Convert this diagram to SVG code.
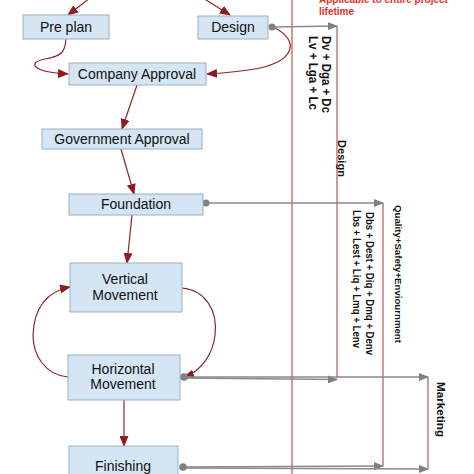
<svg xmlns="http://www.w3.org/2000/svg" width="474" height="474" viewBox="0 0 474 474">
<defs>
<style>
.node rect{fill:#d4e6f4;stroke:#9eafbf;stroke-width:1}
.node text{font-family:"Liberation Sans",Arial,sans-serif;font-size:14px;fill:#111;text-anchor:middle}
.flow{fill:none;stroke:#8e2424;stroke-width:1.2}
.grey{fill:none;stroke:#8a8a8a;stroke-width:1.3}
.bar{fill:none;stroke:#c46060;stroke-width:1.3}
.dot{fill:#808080}
.lbl{font-family:"Liberation Sans",Arial,sans-serif;fill:#111}
.red{font-family:"Liberation Sans",Arial,sans-serif;font-size:10px;font-weight:bold;fill:#e8302a}
</style>
<marker id="ar" markerWidth="11" markerHeight="9" refX="10" refY="4.5" orient="auto" markerUnits="userSpaceOnUse"><path d="M0,0 L11,4.5 L0,9 z" fill="#8e1c1c"/></marker>
<marker id="ag" markerWidth="10" markerHeight="8" refX="9" refY="4" orient="auto" markerUnits="userSpaceOnUse"><path d="M0,0 L10,4 L0,8 z" fill="#808080"/></marker>
</defs>
<rect width="474" height="474" fill="#ffffff"/>

<g id="connectors">
<path class="flow" d="M90,-2 L68,15" marker-end="url(#ar)"/>
<path class="flow" d="M203,-2 L230,15" marker-end="url(#ar)"/>
<path class="flow" d="M66,39 C65,52 62,56 45,59 C28,62 30,72 68,74" marker-end="url(#ar)"/>
<path class="flow" d="M273,27 C300,40 295,60 260,68 C240,72 225,73 207,74" marker-end="url(#ar)"/>
<path class="flow" d="M137,85 L122,129" marker-end="url(#ar)"/>
<path class="flow" d="M121,149 L134,194" marker-end="url(#ar)"/>
<path class="flow" d="M132,215 L127,263" marker-end="url(#ar)"/>
<path class="flow" d="M182,288 C205,290 218,310 215,335 C213,355 200,372 184,377" marker-end="url(#ar)"/>
<path class="flow" d="M68,377 C45,375 33,355 33,335 C34,310 45,292 70,287" marker-end="url(#ar)"/>
<path class="flow" d="M124,400 L124,446" marker-end="url(#ar)"/>

<path class="bar" d="M292,0 L292,474"/>
<path class="bar" d="M337,26 L337,378"/>
<path class="bar" d="M383,203 L383,466"/>
<path class="bar" d="M428,377 L428,469"/>

<path class="grey" d="M272,27 L337,26" marker-end="url(#ag)"/>
<path class="grey" d="M206,203 L383,203" marker-end="url(#ag)"/>
<path class="grey" d="M184,377 L428,377" marker-end="url(#ag)"/>
<path class="grey" d="M184,378 L337,379.5" marker-end="url(#ag)"/>
<path class="grey" d="M183,467 L383,466" marker-end="url(#ag)"/>
<path class="grey" d="M183,468 L428,469" marker-end="url(#ag)"/>
<circle class="dot" cx="272" cy="27" r="3.5"/>
<circle class="dot" cx="206" cy="203" r="3.5"/>
<circle class="dot" cx="184" cy="377" r="3.8"/>
<circle class="dot" cx="183" cy="467" r="3.8"/>
</g>

<g id="preplan" class="node"><rect x="23" y="15" width="86" height="24"/><text x="66" y="32">Pre plan</text></g>
<g id="design" class="node"><rect x="198" y="16" width="70" height="23"/><text x="233" y="32">Design</text></g>
<g id="company-approval" class="node"><rect x="69" y="63" width="137" height="22"/><text x="137" y="79">Company Approval</text></g>
<g id="government-approval" class="node"><rect x="42" y="129" width="160" height="20"/><text x="122" y="144">Government Approval</text></g>
<g id="foundation" class="node"><rect x="69" y="194" width="134" height="21"/><text x="136" y="209">Foundation</text></g>
<g id="vertical-movement" class="node"><rect x="70" y="263" width="112" height="49"/><text x="125" y="284">Vertical</text><text x="125" y="300">Movement</text></g>
<g id="horizontal-movement" class="node"><rect x="68" y="355" width="112" height="45"/><text x="123" y="374">Horizontal</text><text x="123" y="389">Movement</text></g>
<g id="finishing" class="node"><rect x="69" y="446" width="109" height="40"/><text x="123" y="471">Finishing</text></g>

<g id="labels">
<text class="red" x="319" y="3">Applicable to entire project</text>
<text class="red" x="319" y="15">lifetime</text>
<text class="lbl" transform="translate(322,36) rotate(90)" font-size="12" font-weight="bold" textLength="77" lengthAdjust="spacingAndGlyphs">Dv + Dga + Dc</text>
<text class="lbl" transform="translate(308.5,36) rotate(90)" font-size="12" font-weight="bold" textLength="74" lengthAdjust="spacingAndGlyphs">Lv + Lga + Lc</text>
<text class="lbl" transform="translate(338,140) rotate(90)" font-size="11" font-weight="bold" textLength="37" lengthAdjust="spacingAndGlyphs">Design</text>
<text class="lbl" transform="translate(395,205) rotate(90)" font-size="9" font-weight="bold" textLength="138" lengthAdjust="spacingAndGlyphs">Quality+Safety+Enviournment</text>
<text class="lbl" transform="translate(366,212) rotate(90)" font-size="10.5" font-weight="bold" textLength="143" lengthAdjust="spacingAndGlyphs">Dbs + Dest + Diq + Dmq + Denv</text>
<text class="lbl" transform="translate(353,210) rotate(90)" font-size="10.5" font-weight="bold" textLength="138" lengthAdjust="spacingAndGlyphs">Lbs + Lest + Liq + Lmq + Lenv</text>
<text class="lbl" transform="translate(437,382) rotate(90)" font-size="11.5" font-weight="bold" textLength="55" lengthAdjust="spacingAndGlyphs">Marketing</text>
</g>
</svg>
